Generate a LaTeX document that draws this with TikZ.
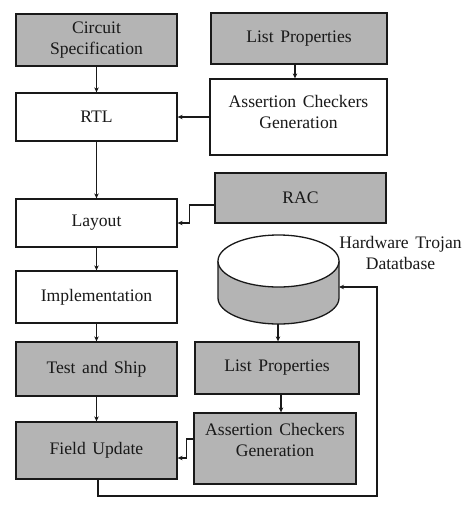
\documentclass[tikz,border=0pt]{standalone}
\usepackage{fontspec}
\setmainfont[WordSpace=1.5]{Liberation Serif}
\usetikzlibrary{arrows.meta,calc}
\definecolor{boxgray}{RGB}{180,180,180}
\definecolor{ink}{RGB}{25,25,25}
\begin{document}
\begin{tikzpicture}[x=1pt,y=1pt,
  box/.style={draw=ink,line width=1.3pt,rectangle,inner sep=2pt,align=center,font=\fontsize{17.6}{21}\selectfont,text=ink},
  gbox/.style={box,fill=boxgray},
  wbox/.style={box,fill=white},
  lbl/.style={align=center,font=\fontsize{17.6}{21}\selectfont,text=ink,inner sep=0pt},
  arr/.style={draw=ink,line width=1.3pt,-{Stealth[length=5pt,width=4.5pt]}}]
\useasboundingbox (0,0) rectangle (474,-507);
% left column
\node[gbox,minimum width=161,minimum height=52] (cs) at (96.5,-40) {Circuit\\Specification};
\node[wbox,minimum width=161,minimum height=48] (rtl) at (96.5,-117) {RTL};
\node[wbox,minimum width=161,minimum height=48] (layout) at (96.5,-223) {Layout};
\node[wbox,minimum width=161,minimum height=52] (impl) at (96.5,-297) {Implementation};
\node[gbox,minimum width=161,minimum height=54] (ts) at (96.5,-369) {Test and Ship};
\node[gbox,minimum width=161,minimum height=57] (fu) at (96.5,-450.5) {Field Update};
% right column top
\node[gbox,minimum width=176,minimum height=51] (lp1) at (299,-38.5) {List Properties};
\node[wbox,minimum width=177,minimum height=76] (acg1) at (298.5,-117) {};
\node[lbl] (acg1t) at (298.5,-112) {Assertion Checkers\\Generation};
\node[gbox,minimum width=171,minimum height=50] (rac) at (300.5,-198) {RAC};
% database cylinder
\fill[boxgray] (218,-261) -- (218,-298) arc[start angle=180,end angle=360,x radius=60.5pt,y radius=26pt] -- (339,-261) -- cycle;
\draw[ink,line width=1.3pt] (218,-261) -- (218,-298) arc[start angle=180,end angle=360,x radius=60.5pt,y radius=26pt] -- (339,-261);
\draw[ink,line width=1.3pt,fill=white] (278.5,-261) ellipse[x radius=60.5pt,y radius=26pt];
\coordinate (dbbot) at (278,-324);
\coordinate (dbright) at (339,-287);
\node[lbl] (dblabel) at (400.5,-252.5) {Hardware Trojan\\Datatbase};
% right column bottom
\node[gbox,minimum width=164,minimum height=52] (lp2) at (277,-368) {List Properties};
\node[gbox,minimum width=162,minimum height=71] (acg2) at (275,-448.5) {};
\node[lbl] (acg2t) at (275,-440) {Assertion Checkers\\Generation};
\coordinate (fbc) at (377,-496);
% connectors
\draw[arr] (cs.south) -- (rtl.north);
\draw[arr] ([xshift=-4pt]lp1.south) -- ([xshift=-3.5pt]acg1.north);
\draw[arr] (acg1.west) -- (rtl.east);
\draw[arr] (rtl.south) -- (layout.north);
\draw[arr] ([yshift=-7pt]rac.west) -- ++(-25,0) |- (layout.east);
\draw[arr] (layout.south) -- (impl.north);
\draw[arr] (impl.south) -- (ts.north);
\draw[arr] (ts.south) -- (fu.north);
\draw[arr] (dbbot) -- (dbbot |- lp2.north);
\draw[arr] ([xshift=4pt]lp2.south) -- ([xshift=6pt]acg2.north);
\draw[arr] ([yshift=9.5pt]acg2.west) -- ++(-7,0) |- ([yshift=-7.5pt]fu.east);
\draw[arr] ([xshift=1.5pt]fu.south) |- (fbc) |- (dbright);
\end{tikzpicture}
\end{document}
